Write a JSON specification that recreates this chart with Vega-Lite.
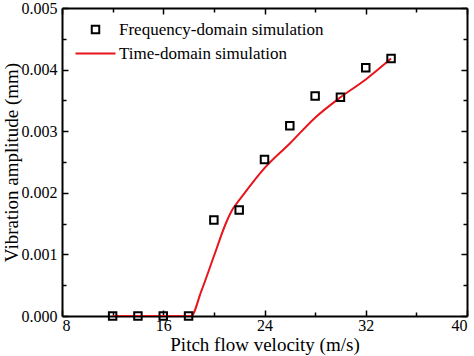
{
  "$schema": "https://vega.github.io/schema/vega-lite/v6.json",
  "width": 405,
  "height": 308,
  "autosize": {"type": "none"},
  "padding": {"left": 62, "top": 8, "right": 7, "bottom": 40},
  "background": "white",
  "config": {
    "view": {"stroke": null},
    "font": "Liberation Serif",
    "axis": {"grid": false, "domainColor": "black", "domainWidth": 2, "tickColor": "black", "tickWidth": 1.5, "labelColor": "black", "titleColor": "black", "labelFont": "Liberation Serif", "titleFont": "Liberation Serif", "labelFontSize": 16, "titleFontSize": 19, "titleFontWeight": "normal"}
  },
  "datasets": {
    "freq": [
      {"v": 12, "a": 0, "series": "Frequency-domain simulation"},
      {"v": 14, "a": 0, "series": "Frequency-domain simulation"},
      {"v": 16, "a": 0, "series": "Frequency-domain simulation"},
      {"v": 18, "a": 0, "series": "Frequency-domain simulation"},
      {"v": 20, "a": 0.00156, "series": "Frequency-domain simulation"},
      {"v": 22, "a": 0.00172, "series": "Frequency-domain simulation"},
      {"v": 24, "a": 0.00254, "series": "Frequency-domain simulation"},
      {"v": 26, "a": 0.00309, "series": "Frequency-domain simulation"},
      {"v": 28, "a": 0.00357, "series": "Frequency-domain simulation"},
      {"v": 30, "a": 0.00355, "series": "Frequency-domain simulation"},
      {"v": 32, "a": 0.00403, "series": "Frequency-domain simulation"},
      {"v": 34, "a": 0.00418, "series": "Frequency-domain simulation"}
    ],
    "time": [
      {"v": 12, "a": 0, "series": "Time-domain simulation"},
      {"v": 18.2, "a": 0, "series": "Time-domain simulation"},
      {"v": 19, "a": 0.00040, "series": "Time-domain simulation"},
      {"v": 20, "a": 0.00097, "series": "Time-domain simulation"},
      {"v": 21, "a": 0.00153, "series": "Time-domain simulation"},
      {"v": 21.5, "a": 0.00174, "series": "Time-domain simulation"},
      {"v": 22, "a": 0.00188, "series": "Time-domain simulation"},
      {"v": 23, "a": 0.00215, "series": "Time-domain simulation"},
      {"v": 24, "a": 0.0024, "series": "Time-domain simulation"},
      {"v": 26, "a": 0.0028, "series": "Time-domain simulation"},
      {"v": 28, "a": 0.00322, "series": "Time-domain simulation"},
      {"v": 30, "a": 0.00355, "series": "Time-domain simulation"},
      {"v": 32, "a": 0.00384, "series": "Time-domain simulation"},
      {"v": 34, "a": 0.00418, "series": "Time-domain simulation"}
    ]
  },
  "layer": [
    {
      "data": {"name": "time"},
      "mark": {"type": "line", "interpolate": "monotone", "strokeWidth": 2, "clip": true},
      "encoding": {
        "x": {"field": "v", "type": "quantitative", "scale": {"domain": [8, 40], "nice": false, "zero": false},
          "axis": {"orient": "top", "title": null, "labels": false, "values": [8, 12, 16, 20, 24, 28, 32, 36, 40], "tickSize": {"condition": {"test": "datum.value % 8 === 0", "value": -6}, "value": -4}}},
        "y": {"field": "a", "type": "quantitative", "scale": {"domain": [0, 0.005], "nice": false},
          "axis": {"orient": "right", "title": null, "labels": false, "values": [0, 0.0005, 0.001, 0.0015, 0.002, 0.0025, 0.003, 0.0035, 0.004, 0.0045, 0.005], "tickSize": {"condition": {"test": "round(datum.value*10000) % 10 === 0", "value": -6}, "value": -4}}},
        "color": {"field": "series", "type": "nominal", "scale": {"domain": ["Frequency-domain simulation", "Time-domain simulation"], "range": ["black", "#e8141b"]},
          "legend": {"title": null, "orient": "none", "legendX": 25, "legendY": 13, "labelFont": "Liberation Serif", "labelFontSize": 17, "labelColor": "black", "labelLimit": 400, "symbolSize": 1600, "rowPadding": 6, "labelOffset": 15,
            "encode": {"symbols": {"update": {
              "shape": {"signal": "datum.value === 'Time-domain simulation' ? 'stroke' : 'square'"},
              "size": {"signal": "datum.value === 'Time-domain simulation' ? 1600 : 56"},
              "strokeWidth": {"value": 2},
              "fill": {"value": "transparent"},
              "stroke": {"signal": "datum.value === 'Time-domain simulation' ? '#e8141b' : 'black'"}
            }}}}}
      }
    },
    {
      "data": {"name": "freq"},
      "mark": {"type": "point", "shape": "square", "filled": false, "size": 56, "strokeWidth": 2, "opacity": 1},
      "encoding": {
        "x": {"field": "v", "type": "quantitative",
          "axis": {"orient": "bottom", "title": "Pitch flow velocity (m/s)", "values": [8, 12, 16, 20, 24, 28, 32, 36, 40], "labelExpr": "datum.value % 8 === 0 ? datum.label : ''", "tickSize": {"condition": {"test": "datum.value % 8 === 0", "value": -6}, "value": -4}, "labelPadding": 7, "titlePadding": 2}},
        "y": {"field": "a", "type": "quantitative",
          "axis": {"orient": "left", "title": "Vibration amplitude (mm)", "values": [0, 0.0005, 0.001, 0.0015, 0.002, 0.0025, 0.003, 0.0035, 0.004, 0.0045, 0.005], "labelExpr": "round(datum.value*10000) % 10 === 0 ? format(datum.value, '.3f') : ''", "tickSize": {"condition": {"test": "round(datum.value*10000) % 10 === 0", "value": -6}, "value": -4}, "labelPadding": 11, "titlePadding": 0}},
        "color": {"field": "series", "type": "nominal"}
      }
    }
  ],
  "resolve": {"axis": {"x": "independent", "y": "independent"}}
}
